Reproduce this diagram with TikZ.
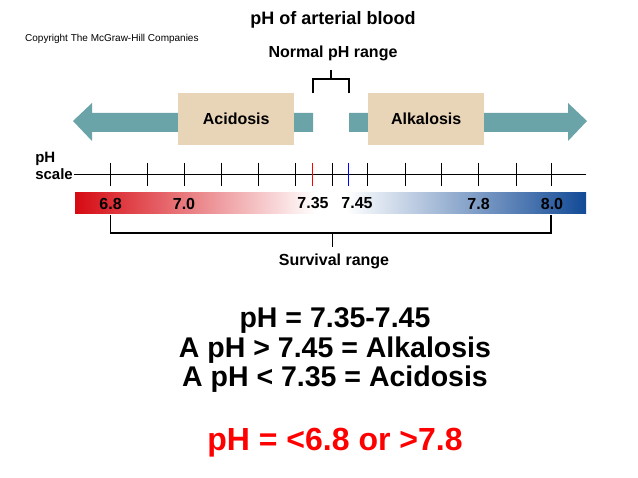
\documentclass[tikz,border=0pt]{standalone}
\usepackage{fontspec}
\setmainfont{Liberation Sans}
\definecolor{teal1}{RGB}{106,164,168}
\definecolor{tan1}{RGB}{232,212,182}
\definecolor{redA}{RGB}{214,10,18}
\definecolor{blueA}{RGB}{18,74,150}
\begin{document}
\begin{tikzpicture}[x=1pt,y=-1pt,
  lbl/.style={font=\bfseries\fontsize{16}{18}\selectfont,inner sep=0pt},
  big/.style={font=\bfseries\fontsize{28.5}{32}\selectfont,inner sep=0pt},
  brk/.style={line width=1.2pt},
  tk/.style={line width=0.9pt}]
\useasboundingbox[fill=white] (0,0) rectangle (638,478);
% arrows
\fill[teal1] (73,121) -- (92,103) -- (92,113) -- (313,113) -- (313,132) -- (92,132) -- (92,141) -- cycle;
\fill[teal1] (587,121) -- (568,103) -- (568,113) -- (349,113) -- (349,132) -- (568,132) -- (568,141) -- cycle;
\node[fill=tan1,minimum width=116pt,minimum height=52pt,anchor=north west,inner sep=0pt] (acid) at (178,93) {};
\node[lbl] at (acid.center) {Acidosis};
\node[fill=tan1,minimum width=116pt,minimum height=52pt,anchor=north west,inner sep=0pt] (alk) at (368,93) {};
\node[lbl] at (alk.center) {Alkalosis};
% normal bracket
\draw[brk] (313,93) -- (313,79) -- (349,79) -- (349,93);
\draw[brk] (331,79) -- (331,70);
\node[lbl,font=\bfseries\fontsize{16}{18}\selectfont] (norm) at (333,53) {Normal pH range};
\node[lbl,font=\bfseries\fontsize{18}{20}\selectfont] (title) at (333,20) {pH of arterial blood};
\node[inner sep=0pt,font=\fontsize{10}{12}\selectfont,anchor=west] (copy) at (25,39) {Copyright The McGraw-Hill Companies};
% scale
\node[lbl,anchor=east,align=left,font=\bfseries\fontsize{15}{17}\selectfont] (sc) at (73,166) {pH\\scale};
\draw[line width=1pt] (74,175) -- (586,175);
\foreach \x in {110.6,147.7,184,221.5,258,295,332.5,367.7,405,441,478.6,516,551}
  \draw[tk] (\x,163) -- (\x,186);
\draw[tk,red] (312,163) -- (312,186);
\draw[tk,blue] (348.6,163) -- (348.6,186);
% gradient bar
\shade[left color=redA,right color=white] (75,193) rectangle (316,214);
\fill[white] (316,193) rectangle (346,214);
\shade[left color=white,right color=blueA] (346,193) rectangle (586,214);
\foreach \x/\t in {110.6/6.8,184/7.0,313/7.35,357/7.45,478.6/7.8,552/8.0}
  \node[lbl] at (\x,203.5) {\t};
% survival
\draw[brk] (110.6,215) -- (110.6,233) -- (551,233) -- (551,215);
\draw[brk] (332.5,233) -- (332.5,247);
\node[lbl] (surv) at (334,261) {Survival range};
% bottom text
\node[big] (l1) at (335,321) {pH = 7.35-7.45};
\node[big] (l2) at (335,350) {A pH > 7.45 = Alkalosis};
\node[big] (l3) at (335,379) {A pH < 7.35 = Acidosis};
\node[big,red,font=\bfseries\fontsize{32}{36}\selectfont] (l4) at (335,443) {pH = <6.8 or >7.8};
\end{tikzpicture}
\end{document}
